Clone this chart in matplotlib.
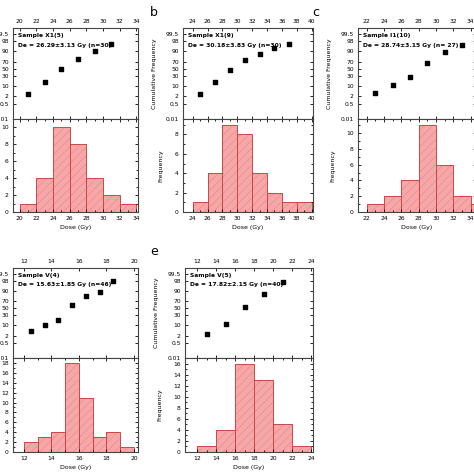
import numpy as np
import math
import matplotlib
matplotlib.use("Agg")
import matplotlib.pyplot as plt

# ---- data ----
samples = ["Sample X1(5)", "Sample X1(9)", "Sample I1(10)", "Sample V(4)", "Sample V(5)"]
de_text = ["De = 26.29±3.13 Gy (n=30)", "De = 30.18±3.83 Gy (n=30)", "De = 28.74±3.15 Gy (n= 27)",
           "De = 15.63±1.85 Gy (n=46)", "De = 17.82±2.15 Gy (n=40)"]
edges_a = [20, 22, 24, 26, 28, 30, 32, 34]; counts_a = [1, 4, 10, 8, 4, 2, 1]
edges_b = [24, 26, 28, 30, 32, 34, 36, 38, 40]; counts_b = [1, 4, 9, 8, 4, 2, 1, 1]
edges_c = [22, 24, 26, 28, 30, 32, 34, 36]; counts_c = [1, 2, 4, 11, 6, 2, 1]
edges_d = [12, 13, 14, 15, 16, 17, 18, 19, 20]; counts_d = [2, 3, 4, 18, 11, 3, 4, 1]
edges_e = [12, 14, 16, 18, 20, 22, 24]; counts_e = [1, 4, 16, 13, 5, 1]
ticks_a = [20, 22, 24, 26, 28, 30, 32, 34]
ticks_b = [24, 26, 28, 30, 32, 34, 36, 38, 40]
ticks_c = [22, 24, 26, 28, 30, 32, 34]
ticks_d = [12, 14, 16, 18, 20]
ticks_e = [12, 14, 16, 18, 20, 22, 24]
cumx_a = [21, 23, 25, 27, 29, 31]; cumy_a = [3.3, 16.7, 50, 76.7, 90, 96.7]
cumx_b = [25, 27, 29, 31, 33, 35, 37]; cumy_b = [3.3, 16.7, 46.7, 73.3, 86.7, 93.3, 96.7]
cumx_c = [23, 25, 27, 29, 31, 33]; cumy_c = [3.7, 11.1, 25.9, 66.7, 88.9, 96.3]
cumx_d = [12.5, 13.5, 14.5, 15.5, 16.5, 17.5, 18.5]; cumy_d = [4.3, 10.9, 19.6, 58.7, 82.6, 89.1, 97.8]
cumx_e = [13, 15, 17, 19, 21]; cumy_e = [2.5, 12.5, 52.5, 85, 97.5]
prob_ticks = [0.01, 0.5, 2, 10, 30, 50, 70, 90, 98, 99.5]
prob_labels = ["0.01", "0.5", "2", "10", "30", "50", "70", "90", "98", "99.5"]

def _ppf(p):
    p = np.clip(np.asarray(p, float) / 100.0, 1e-9, 1 - 1e-9)
    a = [-3.969683028665376e+01, 2.209460984245205e+02, -2.759285104469687e+02,
         1.383577518672690e+02, -3.066479806614716e+01, 2.506628277459239e+00]
    b = [-5.447609879822406e+01, 1.615858368580409e+02, -1.556989798598866e+02,
         6.680131188771972e+01, -1.328068155288572e+01]
    c = [-7.784894002430293e-03, -3.223964580411365e-01, -2.400758277161838e+00,
         -2.549732539343734e+00, 4.374664141464968e+00, 2.938163982698783e+00]
    d = [7.784695709041462e-03, 3.224671290700398e-01, 2.445134137142996e+00,
         3.754408661907416e+00]
    out = np.empty_like(p)
    lo = p < 0.02425; hi = p > 1 - 0.02425; mid = ~(lo | hi)
    q = np.sqrt(-2 * np.log(p[lo]))
    out[lo] = (((((c[0]*q+c[1])*q+c[2])*q+c[3])*q+c[4])*q+c[5]) / ((((d[0]*q+d[1])*q+d[2])*q+d[3])*q+1)
    q = np.sqrt(-2 * np.log(1 - p[hi]))
    out[hi] = -(((((c[0]*q+c[1])*q+c[2])*q+c[3])*q+c[4])*q+c[5]) / ((((d[0]*q+d[1])*q+d[2])*q+d[3])*q+1)
    q = p[mid] - 0.5; r = q * q
    out[mid] = (((((a[0]*r+a[1])*r+a[2])*r+a[3])*r+a[4])*r+a[5])*q / (((((b[0]*r+b[1])*r+b[2])*r+b[3])*r+b[4])*r+1)
    return out

_cdf_v = np.vectorize(lambda z: 50.0 * (1 + math.erf(z / math.sqrt(2))))
def _cdf(z):
    return _cdf_v(np.asarray(z, float))

W = H = 474.0
def rect(l, t, r, b):
    return [l / W, 1 - b / H, (r - l) / W, (b - t) / H]

panels = [
    dict(x=(13, 138), y=(28, 119, 212), xlim=(19.2, 34.2), xt=ticks_a, e=edges_a, c=counts_a,
         cx=cumx_a, cy=cumy_a, yl=10.6, yt=range(0, 11, 2), letter=None, lab=False),
    dict(x=(183, 313), y=(28, 119, 212), xlim=(22.7, 40.2), xt=ticks_b, e=edges_b, c=counts_b,
         cx=cumx_b, cy=cumy_b, yl=9.6, yt=range(0, 9, 2), letter=("b", 150, 13), lab=True),
    dict(x=(358, 476), y=(28, 119, 212), xlim=(21.0, 34.6), xt=ticks_c, e=edges_c, c=counts_c,
         cx=cumx_c, cy=cumy_c, yl=11.8, yt=range(0, 11, 2), letter=("c", 312, 13), lab=True),
    dict(x=(13, 138), y=(268, 358, 452), xlim=(11.2, 20.3), xt=ticks_d, e=edges_d, c=counts_d,
         cx=cumx_d, cy=cumy_d, yl=18.6, yt=range(0, 19, 2), letter=None, lab=False),
    dict(x=(185, 313), y=(268, 358, 452), xlim=(10.7, 24.2), xt=ticks_e, e=edges_e, c=counts_e,
         cx=cumx_e, cy=cumy_e, yl=17, yt=range(0, 17, 2), letter=("e", 150, 252), lab=True),
]

plt.rcParams["hatch.linewidth"] = 0.5
fig = plt.figure(figsize=(4.74, 4.74), dpi=100)
fs = 4.3
gray = "#444444"
for i, p in enumerate(panels):
    l, r = p["x"]; t, m, b = p["y"]
    a1 = fig.add_axes(rect(l, t, r, m))
    a2 = fig.add_axes(rect(l, m, r, b))
    a1.scatter(p["cx"], p["cy"], marker="s", s=6, color="black", zorder=3)
    a1.set_yscale("function", functions=(_ppf, _cdf))
    a1.set_ylim(0.01, 99.87)
    a1.set_yticks(prob_ticks)
    a1.set_yticklabels(prob_labels)
    a1.minorticks_off()
    a1.set_xlim(*p["xlim"])
    a1.set_xticks(p["xt"])
    a1.tick_params(axis="x", labeltop=True, labelbottom=False)
    a1.text(0.04, 0.95, samples[i], transform=a1.transAxes, fontsize=4.3, fontweight="bold", va="top")
    a1.text(0.04, 0.84, de_text[i], transform=a1.transAxes, fontsize=4.3, fontweight="bold", va="top")
    left_edges = p["e"][:-1]
    a2.hist(left_edges, bins=p["e"], weights=p["c"], facecolor="#f6a8a8",
            edgecolor="#ea8c8c", hatch="////", linewidth=0)
    a2.hist(left_edges, bins=p["e"], weights=p["c"], histtype="bar", fill=False,
            edgecolor="#cf4545", linewidth=0.7)
    a2.set_xlim(*p["xlim"]); a2.set_ylim(0, p["yl"])
    a2.set_xticks(p["xt"]); a2.set_yticks(list(p["yt"]))
    a2.set_xticks([(x0 + x1) / 2 for x0, x1 in zip(p["xt"][:-1], p["xt"][1:])], minor=True)
    a2.set_yticks([v + 1 for v in p["yt"]], minor=True)
    a2.set_xlabel("Dose (Gy)", fontsize=4.5, labelpad=3)
    if p["lab"]:
        a1.set_ylabel("Cumulative Frequency", fontsize=4.5, labelpad=6)
        a2.set_ylabel("Frequency", fontsize=4.5, labelpad=8)
    for ax in (a1, a2):
        ax.tick_params(which="both", direction="in", top=True, right=True, labelsize=fs,
                       colors="black", length=2.5, width=0.6, pad=3)
        ax.tick_params(which="minor", length=1.5)
        for s in ax.spines.values():
            s.set_linewidth(0.8); s.set_color(gray)
    if p["letter"]:
        fig.text(p["letter"][1] / W, 1 - p["letter"][2] / H, p["letter"][0], fontsize=9, va="center")

fig.savefig("out.png", dpi=100)
